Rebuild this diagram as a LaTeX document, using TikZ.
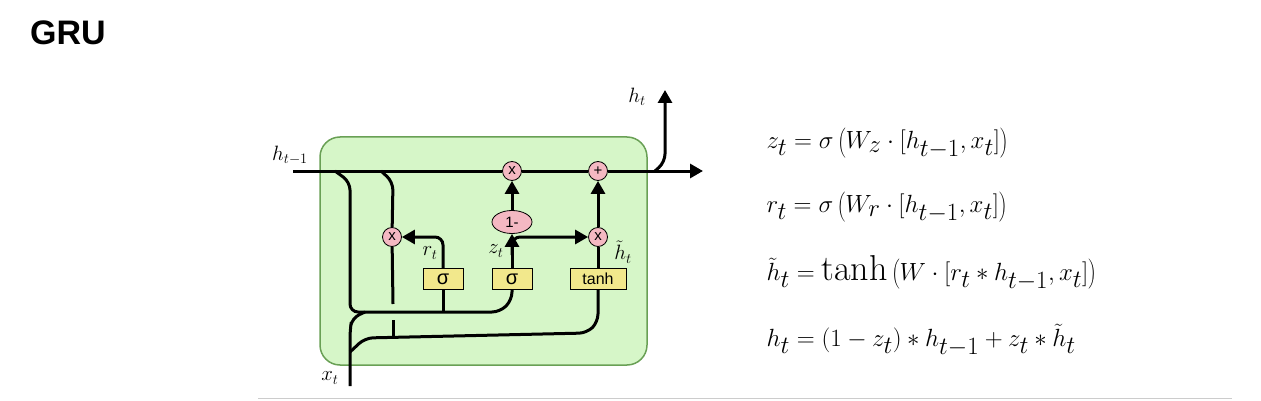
\documentclass[tikz,border=0pt]{standalone}
\usepackage{fontspec}
\newfontfamily\sans{Liberation Sans}
\usetikzlibrary{arrows.meta,shapes.geometric}
\definecolor{cellg}{RGB}{214,246,200}
\definecolor{celle}{RGB}{105,160,85}
\definecolor{pinkc}{RGB}{244,184,194}
\definecolor{yelb}{RGB}{242,232,140}
\begin{document}
\begin{tikzpicture}[x=1pt,y=-1pt,
  wire/.style={line width=3pt,rounded corners=8pt},
  arr/.style={wire,-{Triangle[length=13pt,width=14pt]}},
  op/.style={circle,draw,line width=0.8pt,fill=pinkc,inner sep=0pt,minimum size=19pt,font=\sans\fontsize{15}{16}\selectfont},
  gate/.style={draw,line width=0.8pt,fill=yelb,minimum height=21pt,inner sep=1pt,font=\sans\fontsize{20}{22}\selectfont},
  lab/.style={font=\fontsize{20}{22}\selectfont}]
\useasboundingbox (0,0) rectangle (1261,401);
\node[font=\sans\bfseries\fontsize{34}{38}\selectfont] (title) at (68,33) {GRU};
\draw[gray!40,line width=0.8pt] (258,398) -- (1232,398);
\node[draw=celle,line width=1.5pt,fill=cellg,rounded corners=20pt,minimum width=327pt,minimum height=228pt] (cell) at (483.5,251) {};
\coordinate (hin) at (293,171);
\coordinate (hout) at (703,171);
\coordinate (xin) at (350,386);
\coordinate (htop) at (665,90);
\node[op] (m1) at (512,171) {x};
\node[op] (p1) at (598,171) {+};
\node[ellipse,draw,line width=0.8pt,fill=pinkc,minimum width=40pt,minimum height=23pt,inner sep=0pt,font=\sans\fontsize{15}{16}\selectfont] (om) at (512,222) {1-};
\node[op] (mr) at (392,237) {x};
\node[op] (mz) at (598,237) {x};
\node[gate,minimum width=40pt] (s1) at (443,279) {σ};
\node[gate,minimum width=40pt] (s2) at (512,279) {σ};
\node[gate,minimum width=56pt,font=\sans\fontsize{16}{18}\selectfont] (th) at (598,279) {tanh};
\draw[wire] (hin) -- (m1) -- (p1);
\draw[arr] (p1) -- (hout);
\draw[arr] (655,171) -- (665,162) -- (htop);
\draw[wire] (335,171) -- (350,182) -- (350,312) -- (500,312) -- (512,300) -- (s2.south);
\draw[wire] (381,171) -- (393,182) -- (mr);
\draw[wire] (mr) -- (393,304);
\draw[wire] (393,320) -- (393,338);
\draw[wire] (xin) -- (350,330) -- (352,318) -- (365,312);
\draw[wire] (350,352) -- (365,338) -- (587,333) -- (598,322) -- (th.south);
\draw[wire] (443,312) -- (s1.south);
\draw[arr] (s1.north) -- (443,237) -- (mr);
\draw[arr] (s2.north) -- (om);
\draw[arr] (om) -- (m1);
\draw[arr] (512,255) -- (512,237) -- (mz);
\draw[wire] (th.north) -- (mz);
\draw[arr] (mz) -- (p1);
\node[lab] (lhp) at (290,155) {$h_{t-1}$};
\node[lab] (lht) at (637,97) {$h_t$};
\node[lab] (lxt) at (330,378) {$x_t$};
\node[lab] (lrt) at (430,253) {$r_t$};
\node[lab] (lzt) at (496,251) {$z_t$};
\node[lab] (lth) at (623,252) {$\tilde h_t$};
\begin{scope}[every node/.style={anchor=west,font=\fontsize{36}{40}\selectfont}]
\node (e1) at (763,143) {$z_t=\sigma\left(W_z\cdot[h_{t-1},x_t]\right)$};
\node (e2) at (763,207) {$r_t=\sigma\left(W_r\cdot[h_{t-1},x_t]\right)$};
\node (e3) at (763,273) {$\tilde h_t=\tanh\left(W\cdot[r_t*h_{t-1},x_t]\right)$};
\node (e4) at (763,340) {$h_t=(1-z_t)*h_{t-1}+z_t*\tilde h_t$};
\end{scope}
\end{tikzpicture}
\end{document}
